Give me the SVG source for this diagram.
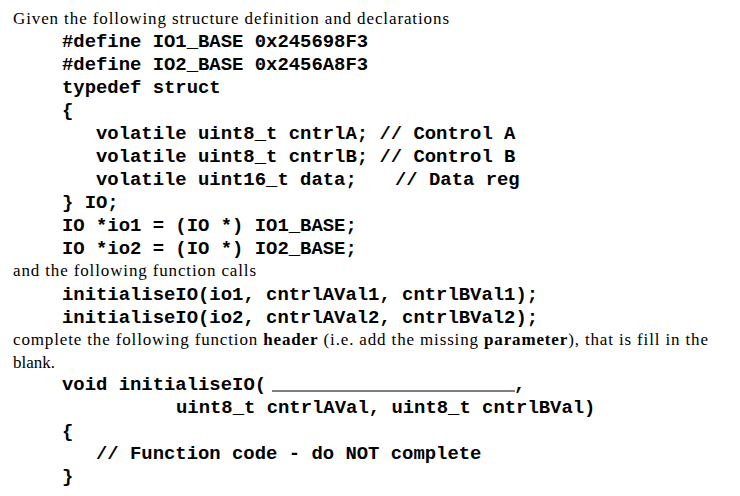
<svg xmlns="http://www.w3.org/2000/svg" width="740" height="496" viewBox="0 0 740 496">
<style>
.s{font-family:"Liberation Serif",serif;font-size:17px;fill:#000}
.m{font-family:"Liberation Mono",monospace;font-size:18.9px;font-weight:bold;fill:#000;white-space:pre}
</style>
<rect width="740" height="496" fill="#fff"/>
<text class="s" x="13" y="24" textLength="436">Given the following structure definition and declarations</text>
<text class="m" x="62" y="47">#define IO1_BASE 0x245698F3</text>
<text class="m" x="62" y="70">#define IO2_BASE 0x2456A8F3</text>
<text class="m" x="62" y="93">typedef struct</text>
<text class="m" x="62" y="116">{</text>
<text class="m" x="96" y="139">volatile uint8_t cntrlA; // Control A</text>
<text class="m" x="96" y="162">volatile uint8_t cntrlB; // Control B</text>
<text class="m" x="96" y="185">volatile uint16_t data;</text>
<text class="m" x="395" y="185">// Data reg</text>
<text class="m" x="62" y="208">} IO;</text>
<text class="m" x="62" y="231">IO *io1 = (IO *) IO1_BASE;</text>
<text class="m" x="62" y="254">IO *io2 = (IO *) IO2_BASE;</text>
<text class="s" x="13" y="276" textLength="243">and the following function calls</text>
<text class="m" x="62" y="300">initialiseIO(io1, cntrlAVal1, cntrlBVal1);</text>
<text class="m" x="62" y="323">initialiseIO(io2, cntrlAVal2, cntrlBVal2);</text>
<text class="s" x="13" y="345" textLength="695">complete the following function <tspan font-weight="bold">header</tspan> (i.e. add the missing <tspan font-weight="bold">parameter</tspan>), that is fill in the</text>
<text class="s" x="13" y="368">blank.</text>
<text class="m" x="62" y="390">void initialiseIO(</text>
<line x1="272" y1="391" x2="515" y2="391" stroke="#000" stroke-width="1"/>
<text class="m" x="514" y="390">,</text>
<text class="m" x="176" y="413">uint8_t cntrlAVal, uint8_t cntrlBVal)</text>
<text class="m" x="62" y="437">{</text>
<text class="m" x="96" y="459">// Function code - do NOT complete</text>
<text class="m" x="62" y="482">}</text>
</svg>
